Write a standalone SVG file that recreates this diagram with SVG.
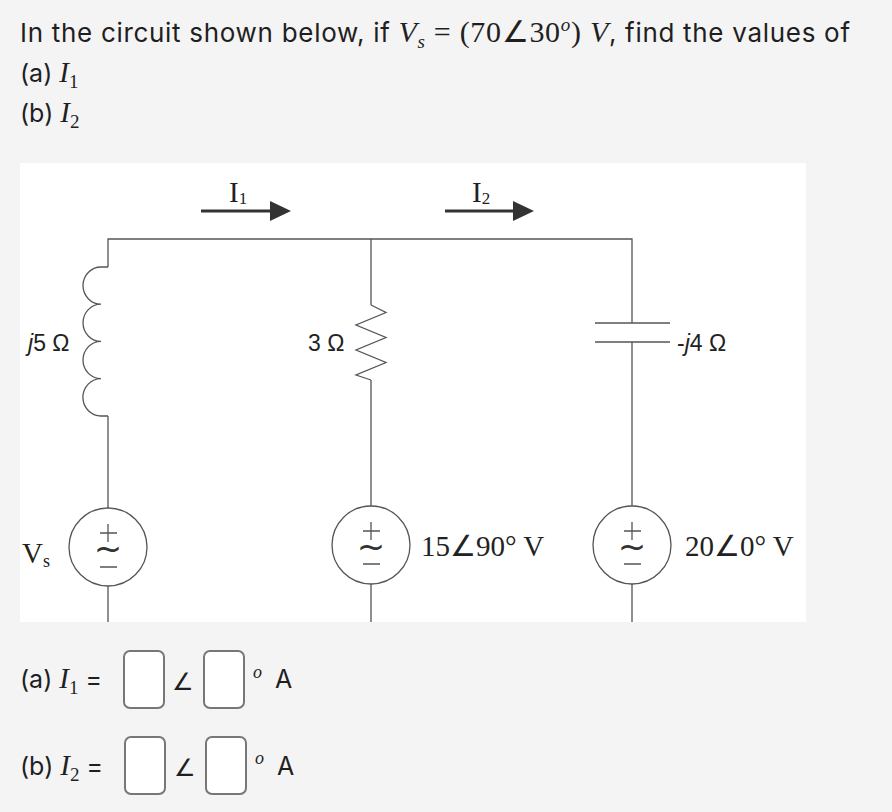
<svg xmlns="http://www.w3.org/2000/svg" width="892" height="812" viewBox="0 0 892 812">
<style>
.w{fill:none;stroke:#555;stroke-width:1.3}
.s{font-family:Inter,"Liberation Sans",sans-serif;fill:#1f1f1f}
.m{font-family:"Liberation Serif",serif;fill:#1f1f1f}
.c{font-family:"Liberation Sans",sans-serif;fill:#222;font-size:23px}
.t{font-family:"Liberation Serif",serif;fill:#222;font-size:29px}
.box{fill:#fff;stroke:#777;stroke-width:2}
.tl{font-family:"DejaVu Sans",sans-serif;fill:#333;font-size:34px}
</style>
<rect width="892" height="812" fill="#f4f4f4"/>
<g id="question">
<text x="20" y="42" class="s" font-size="26" textLength="830" lengthAdjust="spacing">In the circuit shown below, if <tspan class="m" font-style="italic" font-size="30">V</tspan><tspan class="m" font-style="italic" font-size="19" dy="6">s</tspan><tspan class="m" font-size="30" dy="-6"> = (70∠30</tspan><tspan class="m" font-style="italic" font-size="19" dy="-11">o</tspan><tspan class="m" font-size="30" dy="11">) </tspan><tspan class="m" font-style="italic" font-size="30">V</tspan>, find the values of</text>
<text x="20" y="82" class="s" font-size="25">(a) <tspan class="m" font-style="italic" font-size="29">I</tspan><tspan class="m" font-size="19" dy="6">1</tspan></text>
<text x="20" y="122" class="s" font-size="25">(b) <tspan class="m" font-style="italic" font-size="29">I</tspan><tspan class="m" font-size="19" dy="6">2</tspan></text>
</g>
<rect x="20" y="163" width="786" height="459" fill="#fff"/>
<g id="connectors">
<path class="w" d="M108,267 V239 H632 V323 M632,342 V506 M371,239 V305 M371,380 V506 M108,416 V508 M108,586 V622 M371,584 V622 M632,584 V622"/>
</g>
<g id="inductor">
<path class="w" d="M108,267 H101 A18,18.6 0 0 0 101,304.2 A18,18.6 0 0 0 101,341.4 A18,18.6 0 0 0 101,378.6 A18,18.6 0 0 0 101,416 H108"/>
<text x="28" y="351" class="c"><tspan font-style="italic">j</tspan>5 Ω</text>
</g>
<g id="resistor">
<path class="w" d="M371,305 L386,312.5 L356,325 L386,337.5 L356,350 L386,362.5 L356,375 L371,380"/>
<text x="308" y="351" class="c">3 Ω</text>
</g>
<g id="capacitor">
<path class="w" d="M595,323 H670 M595,342 H670"/>
<text x="677" y="351" class="c">-<tspan font-style="italic">j</tspan>4 Ω</text>
</g>
<g id="vs">
<circle class="w" cx="108" cy="547" r="39"/>
<path class="w" d="M108,524 V542 M100,533 H117 M100,567 H117"/>
<text x="108" y="560" class="tl" text-anchor="middle">~</text>
<text x="22" y="563" class="t">V<tspan font-size="18" dy="4">s</tspan></text>
</g>
<g id="v15">
<circle class="w" cx="371" cy="545" r="39"/>
<path class="w" d="M371,522 V540 M363,531 H380 M363,564 H380"/>
<text x="371" y="558" class="tl" text-anchor="middle">~</text>
<text x="421" y="556" class="t">15∠90° V</text>
</g>
<g id="v20">
<circle class="w" cx="632" cy="545" r="39"/>
<path class="w" d="M632,522 V540 M624,531 H641 M624,564 H641"/>
<text x="632" y="558" class="tl" text-anchor="middle">~</text>
<text x="685" y="556" class="t">20∠0° V</text>
</g>
<g id="i1">
<line x1="201" y1="211" x2="272" y2="211" stroke="#333" stroke-width="3"/>
<path d="M270,201 L291,211 L270,221z" fill="#333"/>
<text x="229" y="202" class="t" font-size="28">I<tspan font-size="17" dy="2">1</tspan></text>
</g>
<g id="i2">
<line x1="445" y1="211" x2="515" y2="211" stroke="#333" stroke-width="3"/>
<path d="M513,201 L534,211 L513,221z" fill="#333"/>
<text x="472" y="202" class="t" font-size="28">I<tspan font-size="17" dy="2">2</tspan></text>
</g>
<g id="answers">
<text x="20" y="688" class="s" font-size="25">(a) <tspan class="m" font-style="italic" font-size="29">I</tspan><tspan class="m" font-size="19" dy="6">1</tspan><tspan dy="-6"> =</tspan></text>
<rect class="box" x="124" y="651" width="40" height="57" rx="6"/>
<text x="172" y="690" class="s" font-size="24" fill="#666">∠</text>
<rect class="box" x="204" y="651" width="40" height="57" rx="6"/>
<text x="253" y="678" class="m" font-style="italic" font-size="18">o</text>
<text x="275" y="688" class="s" font-size="25">A</text>
<text x="20" y="775" class="s" font-size="25">(b) <tspan class="m" font-style="italic" font-size="29">I</tspan><tspan class="m" font-size="19" dy="6">2</tspan><tspan dy="-6"> =</tspan></text>
<rect class="box" x="125" y="737" width="40" height="57" rx="6"/>
<text x="174" y="776" class="s" font-size="24" fill="#666">∠</text>
<rect class="box" x="206" y="737" width="40" height="57" rx="6"/>
<text x="255" y="764" class="m" font-style="italic" font-size="18">o</text>
<text x="277" y="775" class="s" font-size="25">A</text>
</g>
</svg>
